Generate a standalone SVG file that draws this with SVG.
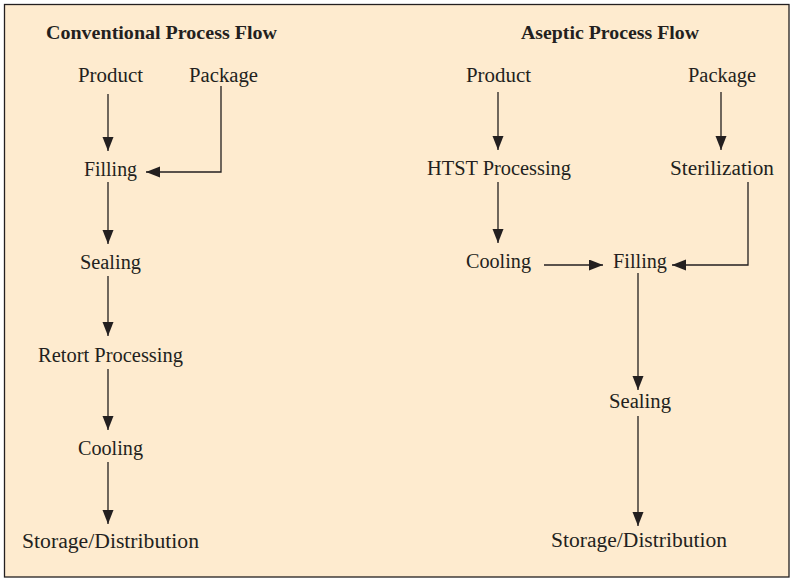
<svg xmlns="http://www.w3.org/2000/svg" width="798" height="586" viewBox="0 0 798 586">
<style>
.t{font-family:"Liberation Serif","Times New Roman",serif;font-size:20px;fill:#231f20;text-anchor:middle}
.h{font-weight:bold;font-size:19px}
.c{fill:none;stroke:#231f20;stroke-width:1.3}
</style>
<defs>
<marker id="ah" markerUnits="userSpaceOnUse" markerWidth="16" markerHeight="12" refX="14" refY="5.5" orient="auto">
<path d="M0,0 L14,5.5 L0,11 Z" fill="#231f20"/>
</marker>
</defs>
<rect x="4.5" y="4.5" width="784.5" height="572.5" fill="#feebcf" stroke="#231f20" stroke-width="1.3"/>
<g id="titles">
<text class="t h" x="161.5" y="39" textLength="231" lengthAdjust="spacingAndGlyphs">Conventional Process Flow</text>
<text class="t h" x="610" y="39" textLength="178" lengthAdjust="spacingAndGlyphs">Aseptic Process Flow</text>
</g>
<g id="c-product"><text class="t" x="110.5" y="82" textLength="65" lengthAdjust="spacingAndGlyphs">Product</text></g>
<g id="c-package"><text class="t" x="223.5" y="82" textLength="69" lengthAdjust="spacingAndGlyphs">Package</text></g>
<g id="c-filling"><text class="t" x="110.5" y="176" textLength="53" lengthAdjust="spacingAndGlyphs">Filling</text></g>
<g id="c-sealing"><text class="t" x="110.5" y="269" textLength="61" lengthAdjust="spacingAndGlyphs">Sealing</text></g>
<g id="c-retort"><text class="t" x="110.5" y="362" textLength="145" lengthAdjust="spacingAndGlyphs">Retort Processing</text></g>
<g id="c-cooling"><text class="t" x="110.5" y="455" textLength="65" lengthAdjust="spacingAndGlyphs">Cooling</text></g>
<g id="c-storage"><text class="t" x="110.5" y="548" textLength="177" lengthAdjust="spacingAndGlyphs">Storage/Distribution</text></g>
<g id="a-product"><text class="t" x="498.5" y="82" textLength="65" lengthAdjust="spacingAndGlyphs">Product</text></g>
<g id="a-package"><text class="t" x="722" y="82" textLength="68" lengthAdjust="spacingAndGlyphs">Package</text></g>
<g id="a-htst"><text class="t" x="499" y="175" textLength="144" lengthAdjust="spacingAndGlyphs">HTST Processing</text></g>
<g id="a-steril"><text class="t" x="722" y="175" textLength="104" lengthAdjust="spacingAndGlyphs">Sterilization</text></g>
<g id="a-cooling"><text class="t" x="498.5" y="268" textLength="65" lengthAdjust="spacingAndGlyphs">Cooling</text></g>
<g id="a-filling"><text class="t" x="640" y="268" textLength="54" lengthAdjust="spacingAndGlyphs">Filling</text></g>
<g id="a-sealing"><text class="t" x="640" y="408" textLength="62" lengthAdjust="spacingAndGlyphs">Sealing</text></g>
<g id="a-storage"><text class="t" x="639" y="547" textLength="176" lengthAdjust="spacingAndGlyphs">Storage/Distribution</text></g>
<g id="connectors">
<path class="c" d="M108,94 V151" marker-end="url(#ah)"/>
<path class="c" d="M221,86 V172 H146" marker-end="url(#ah)"/>
<path class="c" d="M108,182 V244" marker-end="url(#ah)"/>
<path class="c" d="M108,276 V336" marker-end="url(#ah)"/>
<path class="c" d="M108,369 V430" marker-end="url(#ah)"/>
<path class="c" d="M108,462 V524" marker-end="url(#ah)"/>
<path class="c" d="M498,92 V150" marker-end="url(#ah)"/>
<path class="c" d="M721,92 V150" marker-end="url(#ah)"/>
<path class="c" d="M498,182 V243" marker-end="url(#ah)"/>
<path class="c" d="M544,265 H603" marker-end="url(#ah)"/>
<path class="c" d="M748,182 V265 H672" marker-end="url(#ah)"/>
<path class="c" d="M638,273 V390" marker-end="url(#ah)"/>
<path class="c" d="M638,416 V526" marker-end="url(#ah)"/>
</g>
</svg>
